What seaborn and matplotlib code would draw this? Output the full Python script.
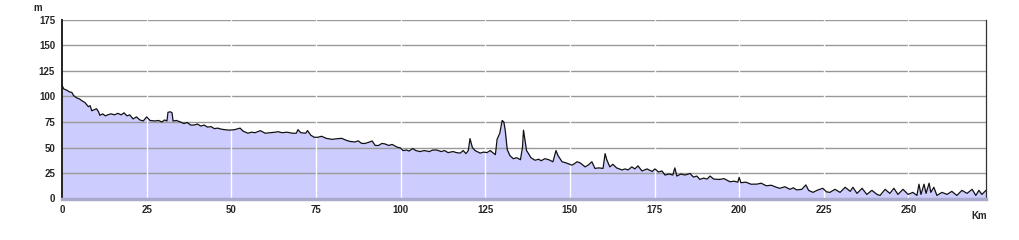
import numpy as np
import pandas as pd
import matplotlib
matplotlib.use("Agg")
import matplotlib.pyplot as plt
import seaborn as sns

km = [0, 0.5, 1.5, 2.2, 2.9, 3.4, 4.3, 5.2, 5.8, 6.8, 7.8, 8.3, 8.8, 9.5, 10.2, 10.8, 11.2, 12.0, 12.8, 13.5,
      14.5, 15.5, 16.5, 17.5, 18.3, 19.2, 20.0, 21.0, 22.0, 23.0, 24.0, 25.0, 26.0, 27.5, 28.5, 29.5, 30.3, 31.0,
      31.3, 32.0, 32.5, 32.8, 33.8, 35, 36, 37, 38, 39, 40, 41, 42, 43, 44, 45, 46, 47, 48, 49.5, 51, 52.6, 53.5,
      54.9, 56, 57, 58.6, 60, 61.5, 63, 63.8, 65, 66.5, 68, 69.2, 69.7, 70.5, 72, 72.5, 73.5, 74.5, 75.5, 76.7,
      78, 79.7, 81, 82.6, 84, 85, 86.5, 87.5, 88.5, 89.5, 90.5, 91.6, 92.5, 93.5, 94.5, 95.4, 96.5, 97.5, 98.9,
      100, 100.7, 101.8, 102.5, 103.6, 104.5, 105.7, 107, 108.5, 109.5, 110.7, 112, 113, 114, 115.5, 116.5, 117.6,
      118.5, 119.3, 120.0, 120.5, 121.2, 122, 122.6, 123.5, 124.5, 125.5, 126.5, 127.2, 128, 128.5, 129.3, 130,
      130.5, 130.9, 131.5, 132.3, 133.3, 134.3, 135.4, 136.0, 136.3, 136.7, 137.2, 137.6, 138.5, 139.7, 140.8,
      141.5, 142.6, 143.8, 145, 145.9, 146.5, 147.7, 148.8, 150.6, 151.3, 152.1, 153, 154.5, 155.5, 156.5, 157.4,
      158.5, 159.8, 160.4, 160.9, 161.8, 162.7, 163.8, 165.4, 166.3, 167.2, 168.3, 169.2, 170.1, 171.3, 172.8,
      174.3, 175.1, 176.2, 177.2, 178.1, 179.3, 180.4, 181, 181.6, 182.8, 184, 185.5, 186.5, 187.5, 188.4, 189.5,
      190.5, 191.4, 192.5, 194.3, 195.5, 197.3, 198.5, 199.6, 200, 200.5, 202, 203.5, 205.3, 206.5, 208, 209.5,
      211, 212, 213.5, 215, 216, 217, 218.5, 219.7, 220.5, 221.8, 223, 224.7, 225.8, 226.8, 228.3, 229.8, 231.3,
      232.8, 233.6, 234.8, 236.3, 237.7, 239.2, 240.7, 241.6, 243.1, 244.5, 245.7, 246.9, 248.4, 249.9, 251.3,
      252.5, 253.1, 253.7, 254.6, 255.2, 256.1, 256.6, 257.5, 258.4, 259.9, 261.4, 262.8, 264.3, 265.8, 267.3,
      268.8, 269.9, 270.8, 271.7, 272.9]

elev = [111, 107.5, 106, 104.5, 104, 101, 98.7, 97.5, 96, 94, 90, 91, 86, 87, 88, 85, 81.5, 83, 81, 82,
        83, 82, 83.5, 82, 84, 81, 82, 78, 80, 77, 76, 80, 76.5, 76, 76.5, 75, 77, 76,
        84.5, 85, 84, 76, 76.5, 75, 73.5, 74.5, 72, 72, 73, 71, 72, 70, 70.5, 68.5, 69, 68, 67.5, 67, 67.5, 69, 66,
        64, 65, 64.5, 66.5, 64, 64.5, 65, 65.5, 64.5, 65, 64, 64, 67.5, 64.5, 64, 66.6, 62, 60, 60, 61,
        59, 58, 58.5, 59, 57, 56, 55.4, 56.5, 54, 54, 55, 56.4, 52, 52, 54, 53.5, 52, 53, 50.5,
        49.5, 47, 47.5, 46.5, 49, 47, 46, 47, 46, 47.5, 47.5, 46, 47, 45, 46, 45, 44.5,
        47, 44, 47, 58.7, 50, 47, 46, 44.5, 45.5, 45, 47, 45, 43, 58, 64, 76.5,
        75, 67, 48, 42, 39, 40, 38, 50, 67, 58, 47, 45, 40, 37.5, 38.5,
        37, 39, 38, 36, 47, 42, 36, 35, 32.7, 34, 36, 35, 31, 33, 36, 29.5,
        30, 29.5, 44, 38, 31, 33.5, 30, 28, 29, 28, 31, 29, 32, 27, 29,
        26.5, 29, 26, 27, 23, 24, 23, 30, 22, 24, 23, 24.5, 21, 22, 18.7, 20,
        19, 22, 19, 18.7, 19.5, 16.4, 17, 16, 20.7, 15.5, 16, 14, 14.1, 15, 12.5, 13,
        11, 10, 11.5, 9, 10.5, 8.4, 9, 13.3, 8, 6, 8, 10, 6.5, 6, 9, 6, 11,
        7, 11, 5, 10, 4, 8, 4, 3, 9, 5, 10, 4, 9, 4, 6,
        3, 14, 4, 14, 5, 15, 6, 11, 3, 6, 4, 7, 3, 8, 5,
        9, 3, 8, 4, 8]

y_ticks = [0, 25, 50, 75, 100, 125, 150, 175]
x_ticks = [0, 25, 50, 75, 100, 125, 150, 175, 200, 225, 250]
y_label = "m"
x_label = "Km"

df = pd.DataFrame({"km": km, "elev": elev})

sns.set_style("white")
plt.rcParams["font.family"] = ["Liberation Sans", "DejaVu Sans"]

fig = plt.figure(figsize=(10.2, 2.4), dpi=100)
ax = fig.add_axes([62 / 1020, 41.5 / 240, (986 - 62) / 1020, (198.5 - 20) / 240])

ax.fill_between(df["km"], 0, df["elev"], color="#ccccff", linewidth=0, zorder=1)
for yt in y_ticks[1:]:
    ax.axhline(yt, color="#999999", lw=1.0, zorder=2)
for xt in x_ticks[1:]:
    ax.axvline(xt, color="white", lw=1.0, zorder=2.5)
sns.lineplot(data=df, x="km", y="elev", color="#111111", lw=0.9, ax=ax, estimator=None, zorder=3)

ax.set_xlim(0, 272.9)
ax.set_ylim(0, 175)
ax.set_xticks(x_ticks)
ax.set_yticks(y_ticks)
ax.set_xticklabels([str(v) for v in x_ticks], fontsize=7, fontweight="bold")
ax.set_yticklabels([str(v) for v in y_ticks], fontsize=7, fontweight="bold")
ax.tick_params(axis="both", length=0, pad=5)
ax.set_xlabel("")
ax.set_ylabel("")

ax.spines["top"].set_visible(False)
ax.spines["left"].set_color("#222222")
ax.spines["left"].set_linewidth(1.4)
ax.spines["right"].set_color("#333333")
ax.spines["right"].set_linewidth(0.9)
ax.spines["bottom"].set_color("#aaaacc")
ax.spines["bottom"].set_linewidth(2.5)

fig.text(33 / 1020, 1 - 8 / 240, y_label, fontsize=7, fontweight="bold", ha="left", va="center")
fig.text(979 / 1020, 1 - 216 / 240, x_label, fontsize=7, fontweight="bold", ha="center", va="center")

fig.savefig("out.png", dpi=100)
